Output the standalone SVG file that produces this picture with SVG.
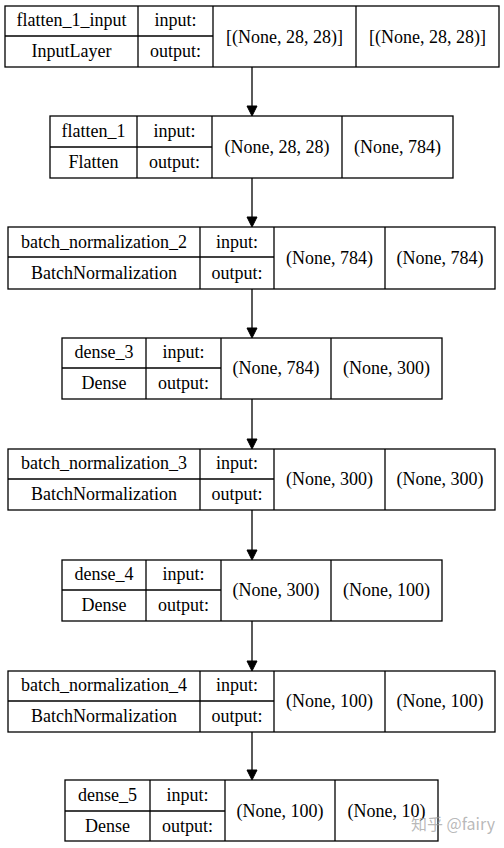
<svg xmlns="http://www.w3.org/2000/svg" width="504" height="848" viewBox="0 0 504 848">
<style>
rect.b{fill:#fff;stroke:#000;stroke-width:1.3}
line.d{stroke:#000;stroke-width:1.3}
.c line{stroke:#000;stroke-width:1.3}
.c polygon{fill:#000;stroke:#000;stroke-width:1}
svg g text{font-family:'Liberation Serif',serif !important;font-size:18px;fill:#000;text-anchor:middle}
svg text.wm{font-family:'Noto Sans CJK SC',sans-serif !important;font-size:16px;fill:#9a9a9a;fill-opacity:0.7;text-anchor:start}
</style>
<rect width="504" height="848" fill="#fff"/>
<g class="c" id="connectors">
<line x1="252" y1="67" x2="252" y2="107"/><polygon points="247,106 257,106 252,116"/>
<line x1="252" y1="178" x2="252" y2="218"/><polygon points="247,217 257,217 252,227"/>
<line x1="252" y1="289" x2="252" y2="329"/><polygon points="247,328 257,328 252,338"/>
<line x1="252" y1="399" x2="252" y2="440"/><polygon points="247,439 257,439 252,449"/>
<line x1="252" y1="510" x2="252" y2="551"/><polygon points="247,550 257,550 252,560"/>
<line x1="252" y1="621" x2="252" y2="662"/><polygon points="247,661 257,661 252,671"/>
<line x1="252" y1="732" x2="252" y2="771"/><polygon points="247,770 257,770 252,780"/>
</g>
<g id="n1">
<rect class="b" x="5" y="6" width="494" height="61"/>
<line class="d" x1="138" y1="6" x2="138" y2="67"/><line class="d" x1="213" y1="6" x2="213" y2="67"/><line class="d" x1="356" y1="6" x2="356" y2="67"/>
<line class="d" x1="5" y1="36" x2="213" y2="36"/>
<text x="71.5" y="26">flatten_1_input</text><text x="71.5" y="57">InputLayer</text>
<text x="175.5" y="26">input:</text><text x="175.5" y="57">output:</text>
<text x="284.5" y="43">[(None, 28, 28)]</text><text x="427.5" y="43">[(None, 28, 28)]</text>
</g>
<g id="n2">
<rect class="b" x="50" y="116" width="403" height="62"/>
<line class="d" x1="137" y1="116" x2="137" y2="178"/><line class="d" x1="212" y1="116" x2="212" y2="178"/><line class="d" x1="342" y1="116" x2="342" y2="178"/>
<line class="d" x1="50" y1="147" x2="212" y2="147"/>
<text x="93.5" y="137">flatten_1</text><text x="93.5" y="168">Flatten</text>
<text x="174.5" y="137">input:</text><text x="174.5" y="168">output:</text>
<text x="277" y="153">(None, 28, 28)</text><text x="397.5" y="153">(None, 784)</text>
</g>
<g id="n3">
<rect class="b" x="8" y="227" width="487" height="62"/>
<line class="d" x1="200" y1="227" x2="200" y2="289"/><line class="d" x1="274" y1="227" x2="274" y2="289"/><line class="d" x1="385" y1="227" x2="385" y2="289"/>
<line class="d" x1="8" y1="257" x2="274" y2="257"/>
<text x="104" y="248">batch_normalization_2</text><text x="104" y="279">BatchNormalization</text>
<text x="237" y="248">input:</text><text x="237" y="279">output:</text>
<text x="329.5" y="264">(None, 784)</text><text x="440" y="264">(None, 784)</text>
</g>
<g id="n4">
<rect class="b" x="62" y="338" width="380" height="61"/>
<line class="d" x1="146" y1="338" x2="146" y2="399"/><line class="d" x1="221" y1="338" x2="221" y2="399"/><line class="d" x1="331" y1="338" x2="331" y2="399"/>
<line class="d" x1="62" y1="368" x2="221" y2="368"/>
<text x="104" y="358">dense_3</text><text x="104" y="389">Dense</text>
<text x="183.5" y="358">input:</text><text x="183.5" y="389">output:</text>
<text x="276" y="374">(None, 784)</text><text x="386.5" y="374">(None, 300)</text>
</g>
<g id="n5">
<rect class="b" x="8" y="449" width="487" height="61"/>
<line class="d" x1="200" y1="449" x2="200" y2="510"/><line class="d" x1="274" y1="449" x2="274" y2="510"/><line class="d" x1="385" y1="449" x2="385" y2="510"/>
<line class="d" x1="8" y1="479" x2="274" y2="479"/>
<text x="104" y="469">batch_normalization_3</text><text x="104" y="500">BatchNormalization</text>
<text x="237" y="469">input:</text><text x="237" y="500">output:</text>
<text x="329.5" y="485">(None, 300)</text><text x="440" y="485">(None, 300)</text>
</g>
<g id="n6">
<rect class="b" x="62" y="560" width="380" height="61"/>
<line class="d" x1="146" y1="560" x2="146" y2="621"/><line class="d" x1="221" y1="560" x2="221" y2="621"/><line class="d" x1="331" y1="560" x2="331" y2="621"/>
<line class="d" x1="62" y1="590" x2="221" y2="590"/>
<text x="104" y="580">dense_4</text><text x="104" y="611">Dense</text>
<text x="183.5" y="580">input:</text><text x="183.5" y="611">output:</text>
<text x="276" y="596">(None, 300)</text><text x="386.5" y="596">(None, 100)</text>
</g>
<g id="n7">
<rect class="b" x="8" y="671" width="487" height="61"/>
<line class="d" x1="200" y1="671" x2="200" y2="732"/><line class="d" x1="274" y1="671" x2="274" y2="732"/><line class="d" x1="385" y1="671" x2="385" y2="732"/>
<line class="d" x1="8" y1="701" x2="274" y2="701"/>
<text x="104" y="691">batch_normalization_4</text><text x="104" y="722">BatchNormalization</text>
<text x="237" y="691">input:</text><text x="237" y="722">output:</text>
<text x="329.5" y="707">(None, 100)</text><text x="440" y="707">(None, 100)</text>
</g>
<g id="n8">
<rect class="b" x="65" y="780" width="373" height="61"/>
<line class="d" x1="150" y1="780" x2="150" y2="841"/><line class="d" x1="225" y1="780" x2="225" y2="841"/><line class="d" x1="335" y1="780" x2="335" y2="841"/>
<line class="d" x1="65" y1="811" x2="225" y2="811"/>
<text x="107.5" y="801">dense_5</text><text x="107.5" y="832">Dense</text>
<text x="187.5" y="801">input:</text><text x="187.5" y="832">output:</text>
<text x="280" y="817">(None, 100)</text><text x="386.5" y="817">(None, 10)</text>
</g>
<text class="wm" x="411" y="830">知乎 @fairy</text>
</svg>
